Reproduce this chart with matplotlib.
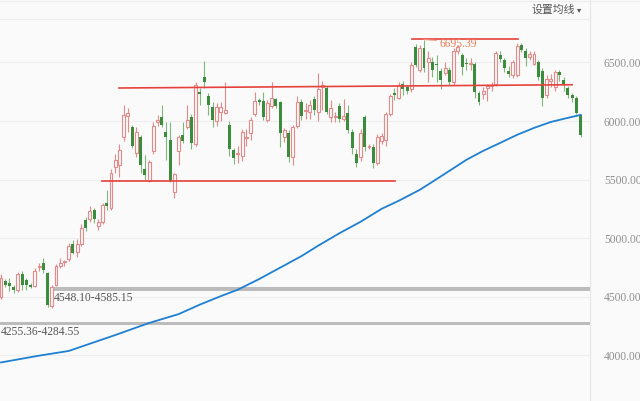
import numpy as np
import matplotlib.pyplot as plt
from matplotlib.lines import Line2D
from matplotlib.ticker import FormatStrFormatter

# daily candles (one row = 10 candles)
opens = [4500, 4630, 4620, 4585, 4560, 4690, 4640, 4600, 4590, 4750,
         4790, 4700, 4420, 4600, 4760, 4795, 4820, 4950, 4880, 4950,
         5150, 5160, 5240, 5100, 5140, 5300, 5260, 5610, 5620, 5860,
         6040, 5950, 5730, 5860, 5590, 5490, 5740, 5995, 6030, 5910,
         5840, 5390, 5740, 5880, 5950, 6030, 5800, 6250, 6380, 6210,
         6120, 6000, 6080, 6070, 5970, 5750, 5715, 5700, 5855, 5900,
         6060, 6180, 6170, 6010, 6130, 6190, 6160, 5860, 5900, 5690,
         5960, 6160, 6085, 6080, 6190, 6080, 6290, 6280, 6030, 6035,
         6130, 6020, 6070, 5910, 5720, 5690, 6030, 5775, 5780, 5640,
         5830, 5840, 6060, 6240, 6200, 6320, 6290, 6270, 6630, 6440,
         6620, 6500, 6500, 6490, 6430, 6410, 6440, 6330, 6600, 6560,
         6495, 6485, 6490, 6240, 6230, 6280, 6295, 6320, 6560, 6520,
         6430, 6390, 6390, 6650, 6600, 6550, 6490, 6500, 6430, 6220,
         6345, 6290, 6420, 6350, 6280, 6220, 6200, 6050]
closes = [4660, 4600, 4590, 4560, 4690, 4600, 4600, 4585, 4720, 4765,
          4730, 4430, 4580, 4760, 4790, 4800, 4930, 4870, 4950, 5090,
          5090, 5230, 5160, 5140, 5280, 5270, 5560, 5670, 5750, 6050,
          6070, 5790, 5910, 5620, 5540, 5650, 5960, 6005, 5970, 5860,
          5490, 5550, 5860, 5830, 6010, 5810, 6310, 6230, 6330, 6140,
          6010, 6120, 6120, 6090, 5760, 5680, 5725, 5910, 5865, 6010,
          6170, 6160, 6030, 6150, 6200, 6130, 5900, 5920, 5690, 5950,
          6160, 6040, 6095, 6140, 6090, 6270, 6310, 6080, 6110, 6045,
          6020, 6040, 5920, 5770, 5640, 5900, 5780, 5785, 5640, 5860,
          5870, 6060, 6210, 6220, 6310, 6270, 6260, 6480, 6480, 6620,
          6450, 6540, 6440, 6480, 6350, 6450, 6330, 6600, 6630, 6460,
          6485, 6495, 6250, 6160, 6260, 6300, 6305, 6580, 6530, 6450,
          6400, 6500, 6640, 6610, 6540, 6570, 6570, 6380, 6200, 6360,
          6355, 6420, 6390, 6310, 6220, 6200, 6070, 5880]
highs = [4690, 4650, 4660, 4600, 4710, 4720, 4660, 4620, 4740, 4790,
         4830, 4710, 4600, 4780, 4830, 4815, 4960, 4980, 4990, 5120,
         5180, 5270, 5260, 5160, 5300, 5410, 5590, 5720, 5800, 6140,
         6110, 5970, 5950, 5880, 5710, 5670, 5990, 6050, 6140, 5990,
         5990, 5560, 5880, 5990, 6140, 6060, 6330, 6280, 6510, 6240,
         6160, 6150, 6160, 6330, 6000, 5770, 5790, 5930, 5930, 6030,
         6250, 6200, 6250, 6180, 6330, 6200, 6170, 5940, 5920, 5970,
         6210, 6190, 6150, 6180, 6210, 6410, 6340, 6300, 6180, 6080,
         6150, 6190, 6140, 5930, 5760, 5930, 6050, 5800, 5800, 5890,
         5900, 6080, 6230, 6280, 6330, 6340, 6310, 6500, 6660, 6650,
         6695, 6600, 6550, 6560, 6450, 6500, 6460, 6620, 6650, 6580,
         6540, 6540, 6500, 6260, 6290, 6320, 6330, 6600, 6600, 6540,
         6470, 6520, 6670, 6670, 6620, 6600, 6600, 6520, 6450, 6390,
         6400, 6440, 6440, 6380, 6300, 6240, 6210, 6060]
lows = [4480, 4580, 4550, 4530, 4540, 4560, 4560, 4570, 4580, 4720,
        4700, 4410, 4400, 4590, 4740, 4760, 4800, 4860, 4840, 4930,
        5060, 5140, 5130, 5070, 5120, 5240, 5240, 5560, 5520, 5830,
        5910, 5770, 5690, 5560, 5490, 5480, 5720, 5960, 5950, 5670,
        5480, 5340, 5620, 5810, 5930, 5760, 5790, 6140, 6280, 6050,
        5950, 5960, 6000, 6060, 5700, 5630, 5640, 5660, 5790, 5840,
        6040, 6140, 6010, 5990, 6110, 6110, 5780, 5820, 5650, 5620,
        5940, 6010, 6020, 6020, 6050, 6000, 6090, 6060, 5990, 5990,
        5990, 6000, 5900, 5720, 5610, 5660, 5740, 5760, 5600, 5620,
        5800, 5790, 6040, 6180, 6190, 6220, 6230, 6250, 6460, 6420,
        6420, 6330, 6380, 6330, 6270, 6390, 6310, 6310, 6570, 6390,
        6440, 6440, 6200, 6140, 6190, 6170, 6260, 6300, 6500, 6420,
        6380, 6370, 6380, 6590, 6470, 6520, 6480, 6350, 6130, 6200,
        6290, 6260, 6340, 6260, 6200, 6160, 6060, 5860]

# moving average line, sampled along the curve
ma_idx = [0, 9, 16, 27, 35, 42, 47, 52, 56, 61, 66, 71, 75, 80, 85, 90, 94,
          99, 102, 106, 110, 114, 118, 122, 126, 130, 134, 137]
ma_val = [3937, 3995, 4035, 4171, 4274, 4350, 4431, 4504, 4559, 4649, 4747,
          4845, 4935, 5041, 5139, 5250, 5318, 5412, 5481, 5574, 5668, 5745,
          5813, 5882, 5941, 5992, 6027, 6052]

# drawn trend / range lines: (start idx, end idx, start price, end price)
red_lines = [(27.9, 135.0, 6282, 6310),
             (23.9, 93.1, 5490, 5490),
             (97.2, 122.2, 6705, 6705)]

# gray support zones: (start idx, label idx, low, high, label)
zones = [(12.05, 12.5, 4548.10, 4585.15, "4548.10-4585.15"),
         (-3.0, 0.0, 4255.36, 4284.55, "4255.36-4284.55")]

peak_idx = 100
peak_val = 6695.39

yticks = [4000, 4500, 5000, 5500, 6000, 6500]

bg = "#fafafa"
up_col = "#e48a8a"
down_col = "#3b8c3d"
down_wick = "#7cb87c"
num_font = "Liberation Serif"

fig = plt.figure(figsize=(6.4, 4.01), dpi=100)
fig.patch.set_facecolor(bg)
ax = fig.add_axes([0, 0, 590 / 640, 1])
ax.set_facecolor(bg)

o = np.array(opens, dtype=float)
c = np.array(closes, dtype=float)
h = np.array(highs, dtype=float)
l = np.array(lows, dtype=float)
idx = np.arange(len(o))
up = c >= o

###############################################################################
# candles: hollow red for rising days, filled green for falling days
###############################################################################
ax.vlines(idx[up], l[up], h[up], color=up_col, lw=0.8, zorder=2)
ax.vlines(idx[~up], l[~up], h[~up], color=down_wick, lw=0.8, zorder=2)
ax.bar(idx[up], np.maximum(c[up] - o[up], 8), bottom=o[up], width=0.7,
       facecolor=bg, edgecolor=up_col, lw=0.8, zorder=3)
ax.bar(idx[~up], np.maximum(o[~up] - c[~up], 8), bottom=c[~up], width=0.7,
       color=down_col, lw=0, zorder=3)

ax.plot(ma_idx, ma_val, color="#1f7fd0", lw=1.3, zorder=4)

for x0, x1, y0, y1 in red_lines:
    ax.plot([x0, x1], [y0, y1], color="#e6423c", lw=1.2, zorder=4)

for x0, xl, lo, hi, label in zones:
    ax.fill_between([x0, 145], lo, hi, color="#bcbcbc", lw=0, zorder=1)
    ax.text(xl, lo - 62, label, fontsize=8.3, color="#555555",
            family=num_font, va="center", ha="left", zorder=5)

ax.annotate(f"{peak_val:.2f}", xy=(peak_idx, peak_val), xytext=(103.6, 6655),
            fontsize=8.3, color="#ee7d58", family=num_font,
            va="center", ha="left", zorder=5,
            arrowprops=dict(arrowstyle="-", color="#f0a283", lw=0.7,
                            shrinkA=0, shrinkB=0, relpos=(0, 0.8)))

###############################################################################
# axes styling: price scale on the right, faint grid
###############################################################################
ax.set_xlim(-0.236, 139.24)
ax.set_ylim(3607.5, 7034)
ax.set_xticks([])
ax.set_yticks(yticks)
ax.yaxis.tick_right()
ax.yaxis.set_major_formatter(FormatStrFormatter("%.2f"))
ax.tick_params(axis="y", length=0, pad=10, labelsize=8.3, labelcolor="#8f8f8f")
for t in ax.get_yticklabels():
    t.set_family(num_font)
ax.yaxis.grid(True, color="#eeeeee", lw=0.8)
ax.set_axisbelow(True)
for side in ["top", "bottom", "left"]:
    ax.spines[side].set_visible(False)
ax.spines["right"].set_color("#e6e6e6")
ax.spines["right"].set_linewidth(0.8)

fig.add_artist(Line2D([0, 590 / 640], [1 - 19 / 401] * 2, color="#ececec", lw=0.8))
fig.add_artist(Line2D([0, 1], [1 - 1 / 401] * 2, color="#ececec", lw=0.8))

fig.text(532 / 640, 1 - 10 / 401, "设置均线", fontsize=7.8, color="#555555",
         va="center", ha="left", family=["Noto Sans CJK SC", "DejaVu Sans"])
fig.text(577 / 640, 1 - 10 / 401, "▾", fontsize=6, color="#555555",
         va="center", ha="left", family=["DejaVu Sans"])

fig.savefig("out.png", dpi=100, facecolor=bg)
